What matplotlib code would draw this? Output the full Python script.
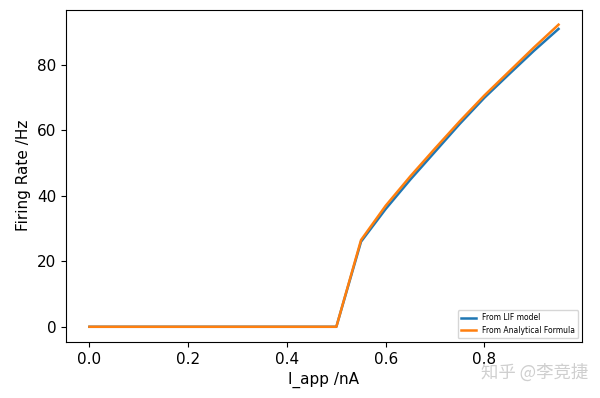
import matplotlib
matplotlib.use('Agg')
import matplotlib.pyplot as plt

i_app = [0.0, 0.05, 0.1, 0.15, 0.2, 0.25, 0.3, 0.35, 0.4, 0.45, 0.5,
         0.55, 0.6, 0.65, 0.7, 0.75, 0.8, 0.85, 0.9, 0.95]
rate_lif = [0, 0, 0, 0, 0, 0, 0, 0, 0, 0, 0,
            26.0, 36.0, 45.0, 53.5, 62.0, 70.0, 77.2, 84.3, 91.0]
rate_formula = [0, 0, 0, 0, 0, 0, 0, 0, 0, 0, 0,
                26.5, 37.0, 46.0, 54.5, 62.8, 70.7, 78.0, 85.3, 92.3]

fig = plt.figure(figsize=(6, 3.98), dpi=100)
ax = fig.add_axes([0.11, 0.141, 0.86, 0.835])

ax.plot(i_app, rate_lif, lw=1.8, label='From LIF model')
ax.plot(i_app, rate_formula, lw=1.8, label='From Analytical Formula')

ax.set_xlabel('I_app /nA', fontsize=11)
ax.set_ylabel('Firing Rate /Hz', fontsize=11)
ax.tick_params(labelsize=11)
ax.legend(loc='lower right', fontsize=5.5)

fig.text(0.98, 0.063, '知乎 @李竞捷', ha='right', va='center', fontsize=12.5,
         color='#cfcfcf', family=['Noto Sans CJK SC', 'DejaVu Sans'])

plt.savefig('out.png', dpi=100)
